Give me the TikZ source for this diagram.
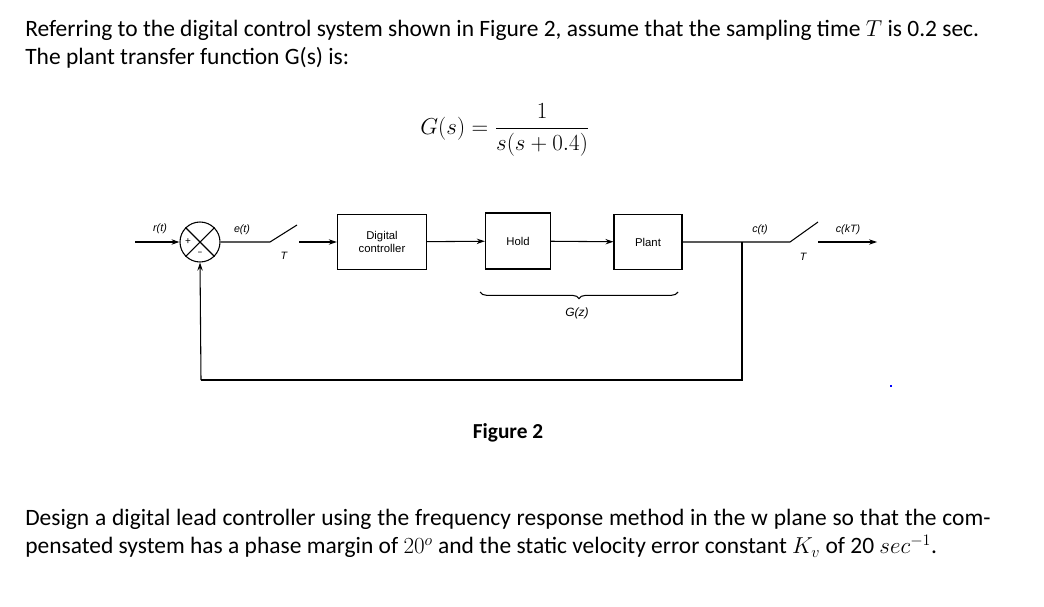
\documentclass[tikz,border=0pt]{standalone}
\usepackage{fontspec}
\setmainfont{Carlito}
\newfontfamily\diagsans{Liberation Sans}
\usetikzlibrary{decorations.pathreplacing,arrows.meta}
\begin{document}
\begin{tikzpicture}[x=0.75pt,y=-0.75pt,
  blk/.style={draw,line width=0.8pt,font=\diagsans\fontsize{8.5}{9.5}\selectfont,align=center},
  sig/.style={font=\diagsans\itshape\fontsize{8}{9}\selectfont},
  ln/.style={line width=0.8pt},
  arr/.style={ln,-{Stealth[length=6pt,width=4pt]}},
  txt/.style={font=\fontsize{17.6}{21}\selectfont,anchor=west,inner sep=0pt}]
\useasboundingbox (0,0) rectangle (1044,606);
\node[txt] (t1) at (25,30) {Referring to the digital control system shown in Figure 2, assume that the sampling time $T$ is 0.2 sec.};
\node[txt] (t2) at (25,58) {The plant transfer function G(s) is:};
\node (eq) at (505,130) {\fontsize{17.5}{20}\selectfont $\displaystyle G(s)=\frac{1}{s(s+0.4)}$};
% blocks
\node[draw,ln,circle,minimum size=30pt,inner sep=0pt] (sum) at (200,242) {};
\draw[ln] (sum.north west)--(sum.south east) (sum.north east)--(sum.south west);
\node[font=\fontsize{8}{8}\selectfont] (plus) at (188,242) {+};
\node[font=\fontsize{8}{8}\selectfont] (minus) at (200,254) {--};
\node[blk,minimum width=67pt,minimum height=41pt] (dc) at (382,242) {Digital\\controller};
\node[blk,minimum width=49pt,minimum height=42pt] (hold) at (518,241) {Hold};
\node[blk,minimum width=51pt,minimum height=41pt] (plant) at (648,242) {Plant};
\coordinate (in) at (135,242);
\coordinate (s1a) at (270,242); \coordinate (s1b) at (297,225); \coordinate (s1c) at (299,242);
\coordinate (br) at (742,242);
\coordinate (s2a) at (790,242); \coordinate (s2b) at (818,222); \coordinate (s2c) at (818,242);
\coordinate (out) at (877,242);
\coordinate (fb1) at (742,380); \coordinate (fb2) at (201,380);
\draw[arr] (in)--(sum);
\draw[ln] (sum)--(s1a)--(s1b);
\draw[arr] (s1c)--(dc);
\draw[arr] (dc)--(hold);
\draw[arr] (hold)--(plant);
\draw[ln] (plant)--(s2a)--(s2b);
\draw[arr] (s2c)--(out);
\draw[ln] (br)--(fb1)--(fb2);
\draw[arr] (fb2)--(sum.south);
\node[sig] (r) at (160,229) {r(t)};
\node[sig] (e) at (242,230) {e(t)};
\node[sig] (T1) at (284,256) {T};
\node[sig] (c) at (760,230) {c(t)};
\node[sig] (T2) at (803,257) {T};
\node[sig] (ck) at (848,230) {c(kT)};
\draw[ln,decorate,decoration={brace,amplitude=5pt,mirror}] (480,292)--(678,292);
\node[sig,font=\diagsans\itshape\fontsize{9}{10}\selectfont] (gz) at (577,313) {G(z)};
\node[fill=blue,inner sep=0.8pt] (dot) at (891,386) {};
\node[font=\bfseries\fontsize{16}{19}\selectfont] (fig) at (508,433) {Figure 2};
\node[txt,text width=724pt,align=justify,font=\fontsize{17.6}{21.3}\selectfont,anchor=north west] (t3) at (25,509) {Design a digital lead controller using the frequency response method in the w plane so that the compensated system has a phase margin of $20^o$ and the static velocity error constant $K_v$ of 20 $sec^{-1}$.};
\end{tikzpicture}
\end{document}
